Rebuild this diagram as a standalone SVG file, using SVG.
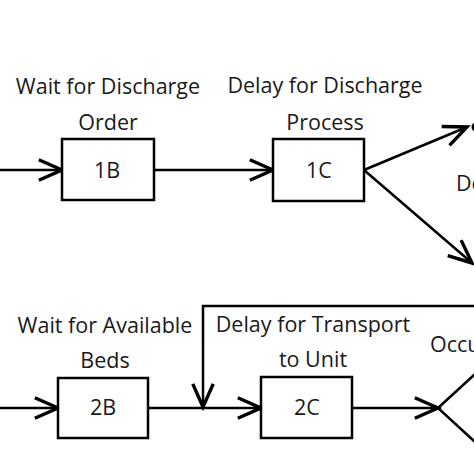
<svg xmlns="http://www.w3.org/2000/svg" width="474" height="474" viewBox="0 0 474 474">
<style>
text{font-family:"Open Sans","Noto Sans","DejaVu Sans",sans-serif;font-size:21.5px;fill:#1a1a1a}
.c{text-anchor:middle}
.box{fill:#fff;stroke:#000;stroke-width:2.5}
.ln{fill:none;stroke:#000;stroke-width:2.5}
</style>
<defs>
<marker id="ah" markerUnits="userSpaceOnUse" markerWidth="30" markerHeight="30" refX="0" refY="0" viewBox="-20 -10 22 20" orient="auto" overflow="visible">
<path d="M-17,-7.5 L0,0 L-17,7.5" fill="none" stroke="#000" stroke-width="2.5"/>
</marker>
</defs>
<rect width="474" height="474" fill="#fff"/>
<g id="connectors">
<line class="ln" x1="0" y1="170" x2="62" y2="170" marker-end="url(#ah)"/>
<line class="ln" x1="154" y1="170" x2="273" y2="170" marker-end="url(#ah)"/>
<line class="ln" x1="364" y1="170" x2="467" y2="127" marker-end="url(#ah)"/>
<line class="ln" x1="364" y1="170" x2="472" y2="263" marker-end="url(#ah)"/>
<line class="ln" x1="0" y1="408" x2="58" y2="408" marker-end="url(#ah)"/>
<line class="ln" x1="148" y1="408" x2="261" y2="408" marker-end="url(#ah)"/>
<polyline class="ln" points="476,306 203,306 203,407" marker-end="url(#ah)"/>
<line class="ln" x1="352" y1="408" x2="438" y2="408" marker-end="url(#ah)"/>
</g>
<g id="node-1B">
<text class="c" x="108" y="94">Wait for Discharge</text>
<text class="c" x="108" y="130">Order</text>
<rect class="box" x="62" y="139" width="92" height="61"/>
<text class="c" x="107" y="178">1B</text>
</g>
<g id="node-1C">
<text class="c" x="325" y="93">Delay for Discharge</text>
<text class="c" x="325" y="130">Process</text>
<rect class="box" x="273" y="139" width="91" height="62"/>
<text class="c" x="319" y="178">1C</text>
</g>
<g id="node-right-top">
<circle cx="476" cy="127" r="4.5" fill="#000"/>
</g>
<g id="node-De">
<text x="456" y="191">De</text>
</g>
<g id="node-2B">
<text class="c" x="105" y="333">Wait for Available</text>
<text class="c" x="105" y="368">Beds</text>
<rect class="box" x="58" y="378" width="90" height="60"/>
<text class="c" x="103" y="415">2B</text>
</g>
<g id="node-2C">
<text class="c" x="313" y="332">Delay for Transport</text>
<text class="c" x="313" y="367">to Unit</text>
<rect class="box" x="261" y="377" width="91" height="61"/>
<text class="c" x="307" y="415">2C</text>
</g>
<g id="node-occupy">
<text x="430" y="352">Occu</text>
<polygon class="ln" points="438,408 474,375 510,408 474,441"/>
</g>
</svg>
